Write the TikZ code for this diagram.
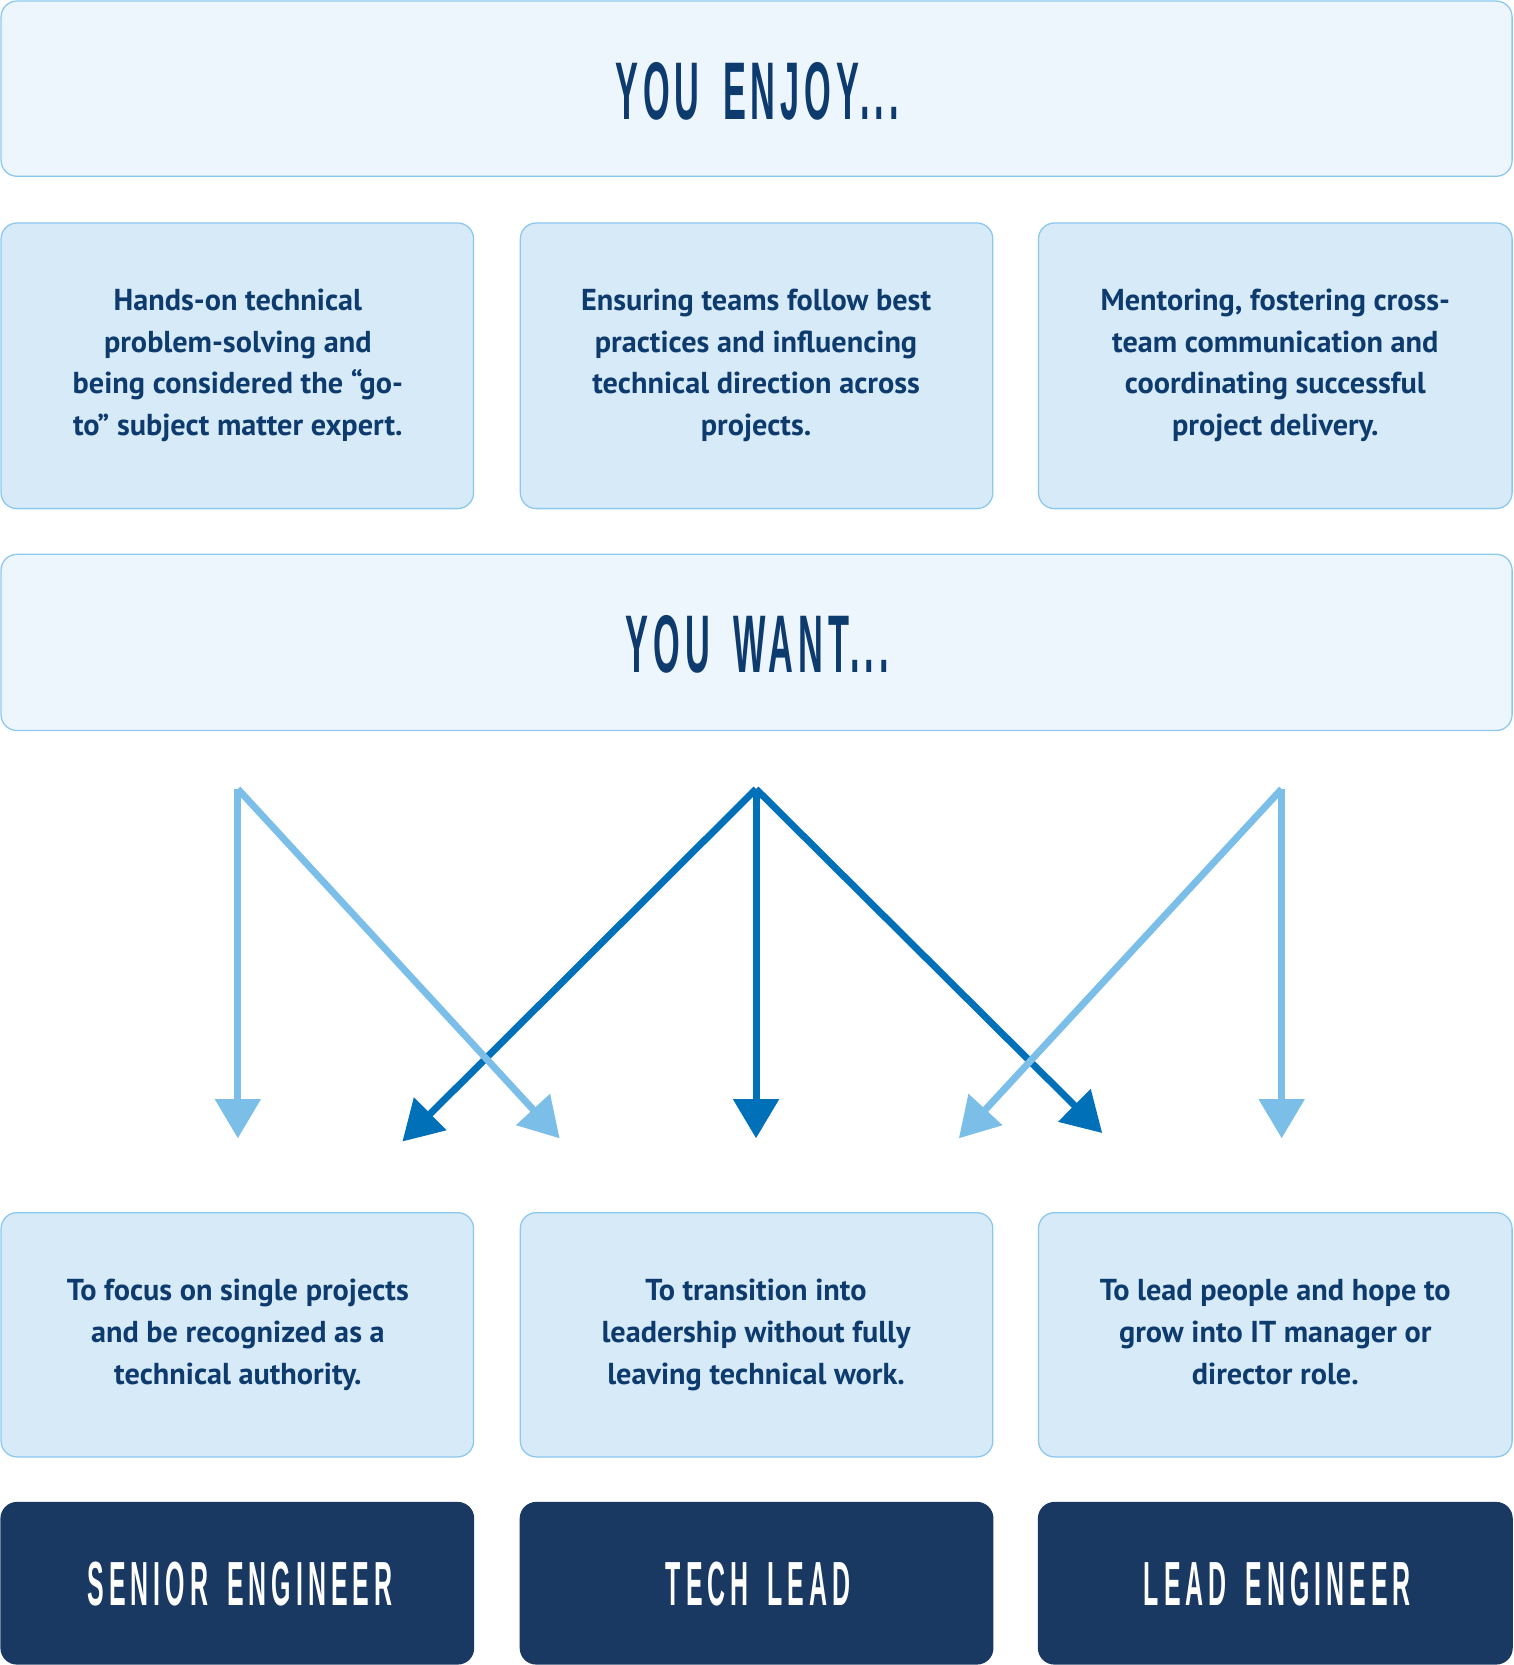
\documentclass[tikz,border=0pt]{standalone}
\usepackage{fontspec}
\usetikzlibrary{arrows.meta}
\setmainfont{PT Sans}
\newfontfamily\headfont[FakeStretch=0.42,LetterSpace=6]{Liberation Sans}
\newfontfamily\rolefont[FakeStretch=0.4,LetterSpace=8]{Liberation Sans}
\definecolor{pale}{HTML}{EEF6FD}
\definecolor{cellbg}{HTML}{D6EAF8}
\definecolor{edge}{HTML}{8CC8EE}
\definecolor{ink}{HTML}{0E3B6E}
\definecolor{navy}{HTML}{1A3962}
\definecolor{lightarr}{HTML}{7BBFE9}
\definecolor{darkarr}{HTML}{0070B8}
\tikzset{
  x=1pt,y=-1pt,
  panel/.style={draw=edge,line width=1.2pt,rounded corners=15pt,fill=pale},
  cell/.style={draw=edge,line width=1.2pt,rounded corners=15pt,fill=cellbg},
  rolebox/.style={draw=navy,line width=1.2pt,rounded corners=15pt,fill=navy},
  bodytext/.style={text=ink,align=center,font=\fontsize{28.5}{39.5}\selectfont\bfseries},
  headtext/.style={text=ink,font=\headfont\fontsize{77}{77}\selectfont\bfseries},
  roletext/.style={text=white,font=\rolefont\fontsize{58.7}{58.7}\selectfont\bfseries},
  lightline/.style={draw=lightarr,line width=6.5pt,-{Triangle[length=37pt,width=42pt]}},
  darkline/.style={draw=darkarr,line width=6.5pt,-{Triangle[length=37pt,width=42pt]}}
}
\newcommand{\sline}{\rule{0pt}{28pt}\rule[-11.5pt]{0pt}{11.5pt}}
\newcommand{\headwords}[2]{\hbox{#1}\kern22pt\hbox{#2}}
\newcommand{\rolewords}[2]{\hbox{#1}\kern18pt\hbox{#2}}
\begin{document}
\begin{tikzpicture}
\useasboundingbox (0,0) rectangle (1425,1568);
% top panel
\draw[panel] (1,1) rectangle (1424,166);
\node[headtext] (enjoy) at (713,86) {\headwords{YOU}{ENJOY...}};
% enjoy cells
\draw[cell] (1,210) rectangle (446,479);
\draw[cell] (490,210) rectangle (935,479);
\draw[cell] (978,210) rectangle (1424,479);
\node[bodytext] (e1) at (224,343) {\sline Hands-on technical\\\sline problem-solving and\\\sline being considered the “go-\\\sline to” subject matter expert.};
\node[bodytext] (e2) at (712,343) {\sline Ensuring teams follow best\\\sline practices and influencing\\\sline technical direction across\\\sline projects.};
\node[bodytext] (e3) at (1201,343) {\sline Mentoring, fostering cross-\\\sline team communication and\\\sline coordinating successful\\\sline project delivery.};
% want panel
\draw[panel] (1,522) rectangle (1424,688);
\node[headtext] (want) at (713,607) {\headwords{YOU}{WANT...}};
% arrows
\coordinate (sL) at (224,743);
\coordinate (sM) at (712,743);
\coordinate (sR) at (1207,743);
\coordinate (tL) at (224,1072);
\coordinate (tLd) at (527,1072);
\coordinate (tMl) at (379,1075);
\coordinate (tM) at (712,1072);
\coordinate (tMr) at (1038,1067);
\coordinate (tRd) at (903,1072);
\coordinate (tR) at (1207,1072);
\draw[darkline] (sM) -- (tMl);
\draw[darkline] (sM) -- (tM);
\draw[darkline] (sM) -- (tMr);
\draw[lightline] (sL) -- (tL);
\draw[lightline] (sL) -- (tLd);
\draw[lightline] (sR) -- (tRd);
\draw[lightline] (sR) -- (tR);
% want cells
\draw[cell] (1,1142) rectangle (446,1372);
\draw[cell] (490,1142) rectangle (935,1372);
\draw[cell] (978,1142) rectangle (1424,1372);
\node[bodytext] (w1) at (224,1256) {\sline To focus on single projects\\\sline and be recognized as a\\\sline technical authority.};
\node[bodytext] (w2) at (712,1256) {\sline To transition into\\\sline leadership without fully\\\sline leaving technical work.};
\node[bodytext] (w3) at (1201,1256) {\sline To lead people and hope to\\\sline grow into IT manager or\\\sline director role.};
% role boxes
\draw[rolebox] (1,1415) rectangle (446,1567);
\draw[rolebox] (490,1415) rectangle (935,1567);
\draw[rolebox] (978,1415) rectangle (1424,1567);
\node[roletext] (r1) at (226,1492) {\rolewords{SENIOR}{ENGINEER}};
\node[roletext] (r2) at (714,1492) {\rolewords{TECH}{LEAD}};
\node[roletext] (r3) at (1203,1492) {\rolewords{LEAD}{ENGINEER}};
\end{tikzpicture}
\end{document}
